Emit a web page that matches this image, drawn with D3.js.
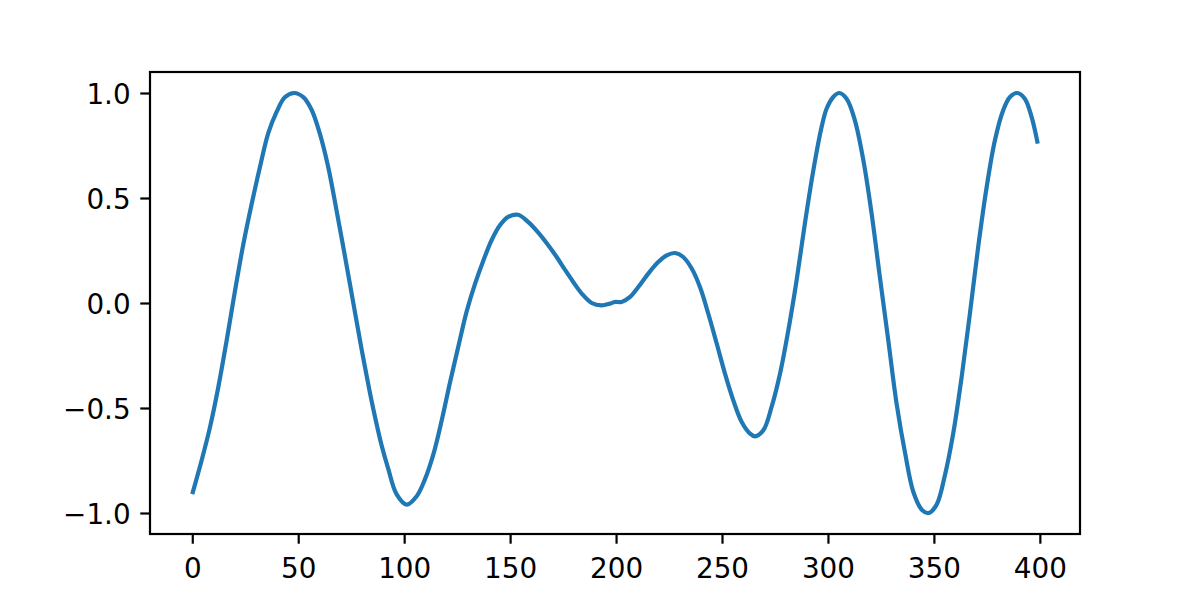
<!DOCTYPE html>
<html>
<head>
<meta charset="utf-8">
<script src="https://cdn.jsdelivr.net/npm/d3@7"></script>
<style>
  html, body { margin: 0; padding: 0; background: #fff; }
</style>
</head>
<body>
<div id="chart"></div>
<script>
// values
var xs = [0, 4.4, 8.4, 12.3, 16.2, 20.2, 24.1, 28, 32, 35.9, 39.8, 43.7, 48.1, 52.4, 56.3,
  60.1, 64.1, 68.1, 72.1, 76, 79.9, 83.9, 86.3, 89.4, 92.5, 96.4, 101.2, 105.9, 109.8,
  113.8, 117.7, 121.6, 125.5, 129.5, 133.4, 137.3, 141.3, 145.2, 149.1, 153.8, 158.6,
  163.3, 168, 171.9, 176.1, 179.8, 183.8, 188.5, 193.2, 197.1, 199.5, 202.6, 206.6, 210.5,
  215.2, 219.9, 223.9, 227.8, 231.7, 235.7, 239.6, 243.5, 247.5, 251.4, 255.3, 259.3,
  263.2, 265.6, 269.5, 273.4, 277.4, 281.3, 285.2, 289.1, 293.1, 297, 299.4, 302.5, 305.3,
  308.8, 312.7, 316.7, 320.6, 324.5, 328.5, 332.4, 336.5, 340.3, 344.5, 347.6, 351.3,
  355.2, 359.1, 363.1, 367, 370.9, 374.9, 378.8, 382.7, 385.9, 389.3, 392.9, 396.1, 399];
var ys = [-0.91, -0.75, -0.59, -0.4, -0.18, 0.06, 0.28, 0.47, 0.65, 0.81, 0.91, 0.98, 1.0,
  0.98, 0.92, 0.81, 0.65, 0.44, 0.22, 0.0, -0.22, -0.43, -0.545, -0.68, -0.79, -0.91, -0.96,
  -0.92, -0.84, -0.72, -0.56, -0.38, -0.21, -0.04, 0.09, 0.2, 0.3, 0.37, 0.41, 0.42, 0.385,
  0.335, 0.275, 0.22, 0.155, 0.1, 0.045, 0.0, -0.011, -0.003, 0.005, 0.005, 0.029, 0.076,
  0.14, 0.195, 0.227, 0.238, 0.219, 0.164, 0.076, -0.05, -0.193, -0.336, -0.463, -0.567,
  -0.622, -0.635, -0.606, -0.495, -0.336, -0.13, 0.108, 0.378, 0.632, 0.838, 0.926, 0.981,
  1.0, 0.973, 0.87, 0.68, 0.426, 0.124, -0.18, -0.48, -0.72, -0.9, -0.987, -1.0, -0.96,
  -0.82, -0.622, -0.352, -0.05, 0.267, 0.552, 0.775, 0.918, 0.981, 1.0, 0.973, 0.886, 0.759];
var xTicks = [0, 50, 100, 150, 200, 250, 300, 350, 400];
var yTicks = [-1.0, -0.5, 0.0, 0.5, 1.0];

var W = 1200, H = 600;
var margin = { top: 72, right: 120, bottom: 66, left: 150 },
  width = W - margin.left - margin.right,
  height = H - margin.top - margin.bottom;

var svg = d3.select("#chart")
  .append("svg")
  .attr("width", W)
  .attr("height", H)
  .style("font-family", "'DejaVu Sans', sans-serif");

var g = svg.append("g")
  .attr("transform", "translate(" + margin.left + "," + margin.top + ")");

// matplotlib style 5% padding
var x = d3.scaleLinear().domain([-19.95, 418.95]).range([0, width]);
var y = d3.scaleLinear().domain([-1.1, 1.1]).range([height, 0]);

var data = xs.map(function(d, i) { return { x: d, y: ys[i] }; });

var line = d3.line()
  .x(function(d) { return x(d.x); })
  .y(function(d) { return y(d.y); })
  .curve(d3.curveCatmullRom.alpha(0.5));

g.append("path")
  .datum(data)
  .attr("fill", "none")
  .attr("stroke", "#1f77b4")
  .attr("stroke-width", 4.2)
  .attr("stroke-linejoin", "round")
  .attr("d", line);

var fmtMinus = function(d) { return d3.format(".1f")(d).replace("-", "\u2212"); };

// X Axis
var xAxis = g.append("g")
  .attr("transform", "translate(0," + height + ")")
  .call(d3.axisBottom(x).tickValues(xTicks).tickSize(9.7).tickPadding(13).tickFormat(d3.format("d")));

// Y Axis
var yAxis = g.append("g")
  .call(d3.axisLeft(y).tickValues(yTicks).tickSize(9.7).tickPadding(9.7).tickFormat(fmtMinus));

[xAxis, yAxis].forEach(function(a) {
  a.select(".domain").remove();
  a.selectAll(".tick line").attr("stroke", "#000").attr("stroke-width", 2.2);
  a.selectAll(".tick text")
    .attr("fill", "#000")
    .attr("font-size", 27.8)
    .attr("font-family", "'DejaVu Sans', sans-serif");
});
xAxis.selectAll(".tick text").attr("dy", "0.76em");
yAxis.selectAll(".tick text").attr("dy", "0.36em");

// frame
g.append("rect")
  .attr("x", 0)
  .attr("y", 0)
  .attr("width", width)
  .attr("height", height)
  .attr("fill", "none")
  .attr("stroke", "#000")
  .attr("stroke-width", 2.2);
</script>
</body>
</html>
